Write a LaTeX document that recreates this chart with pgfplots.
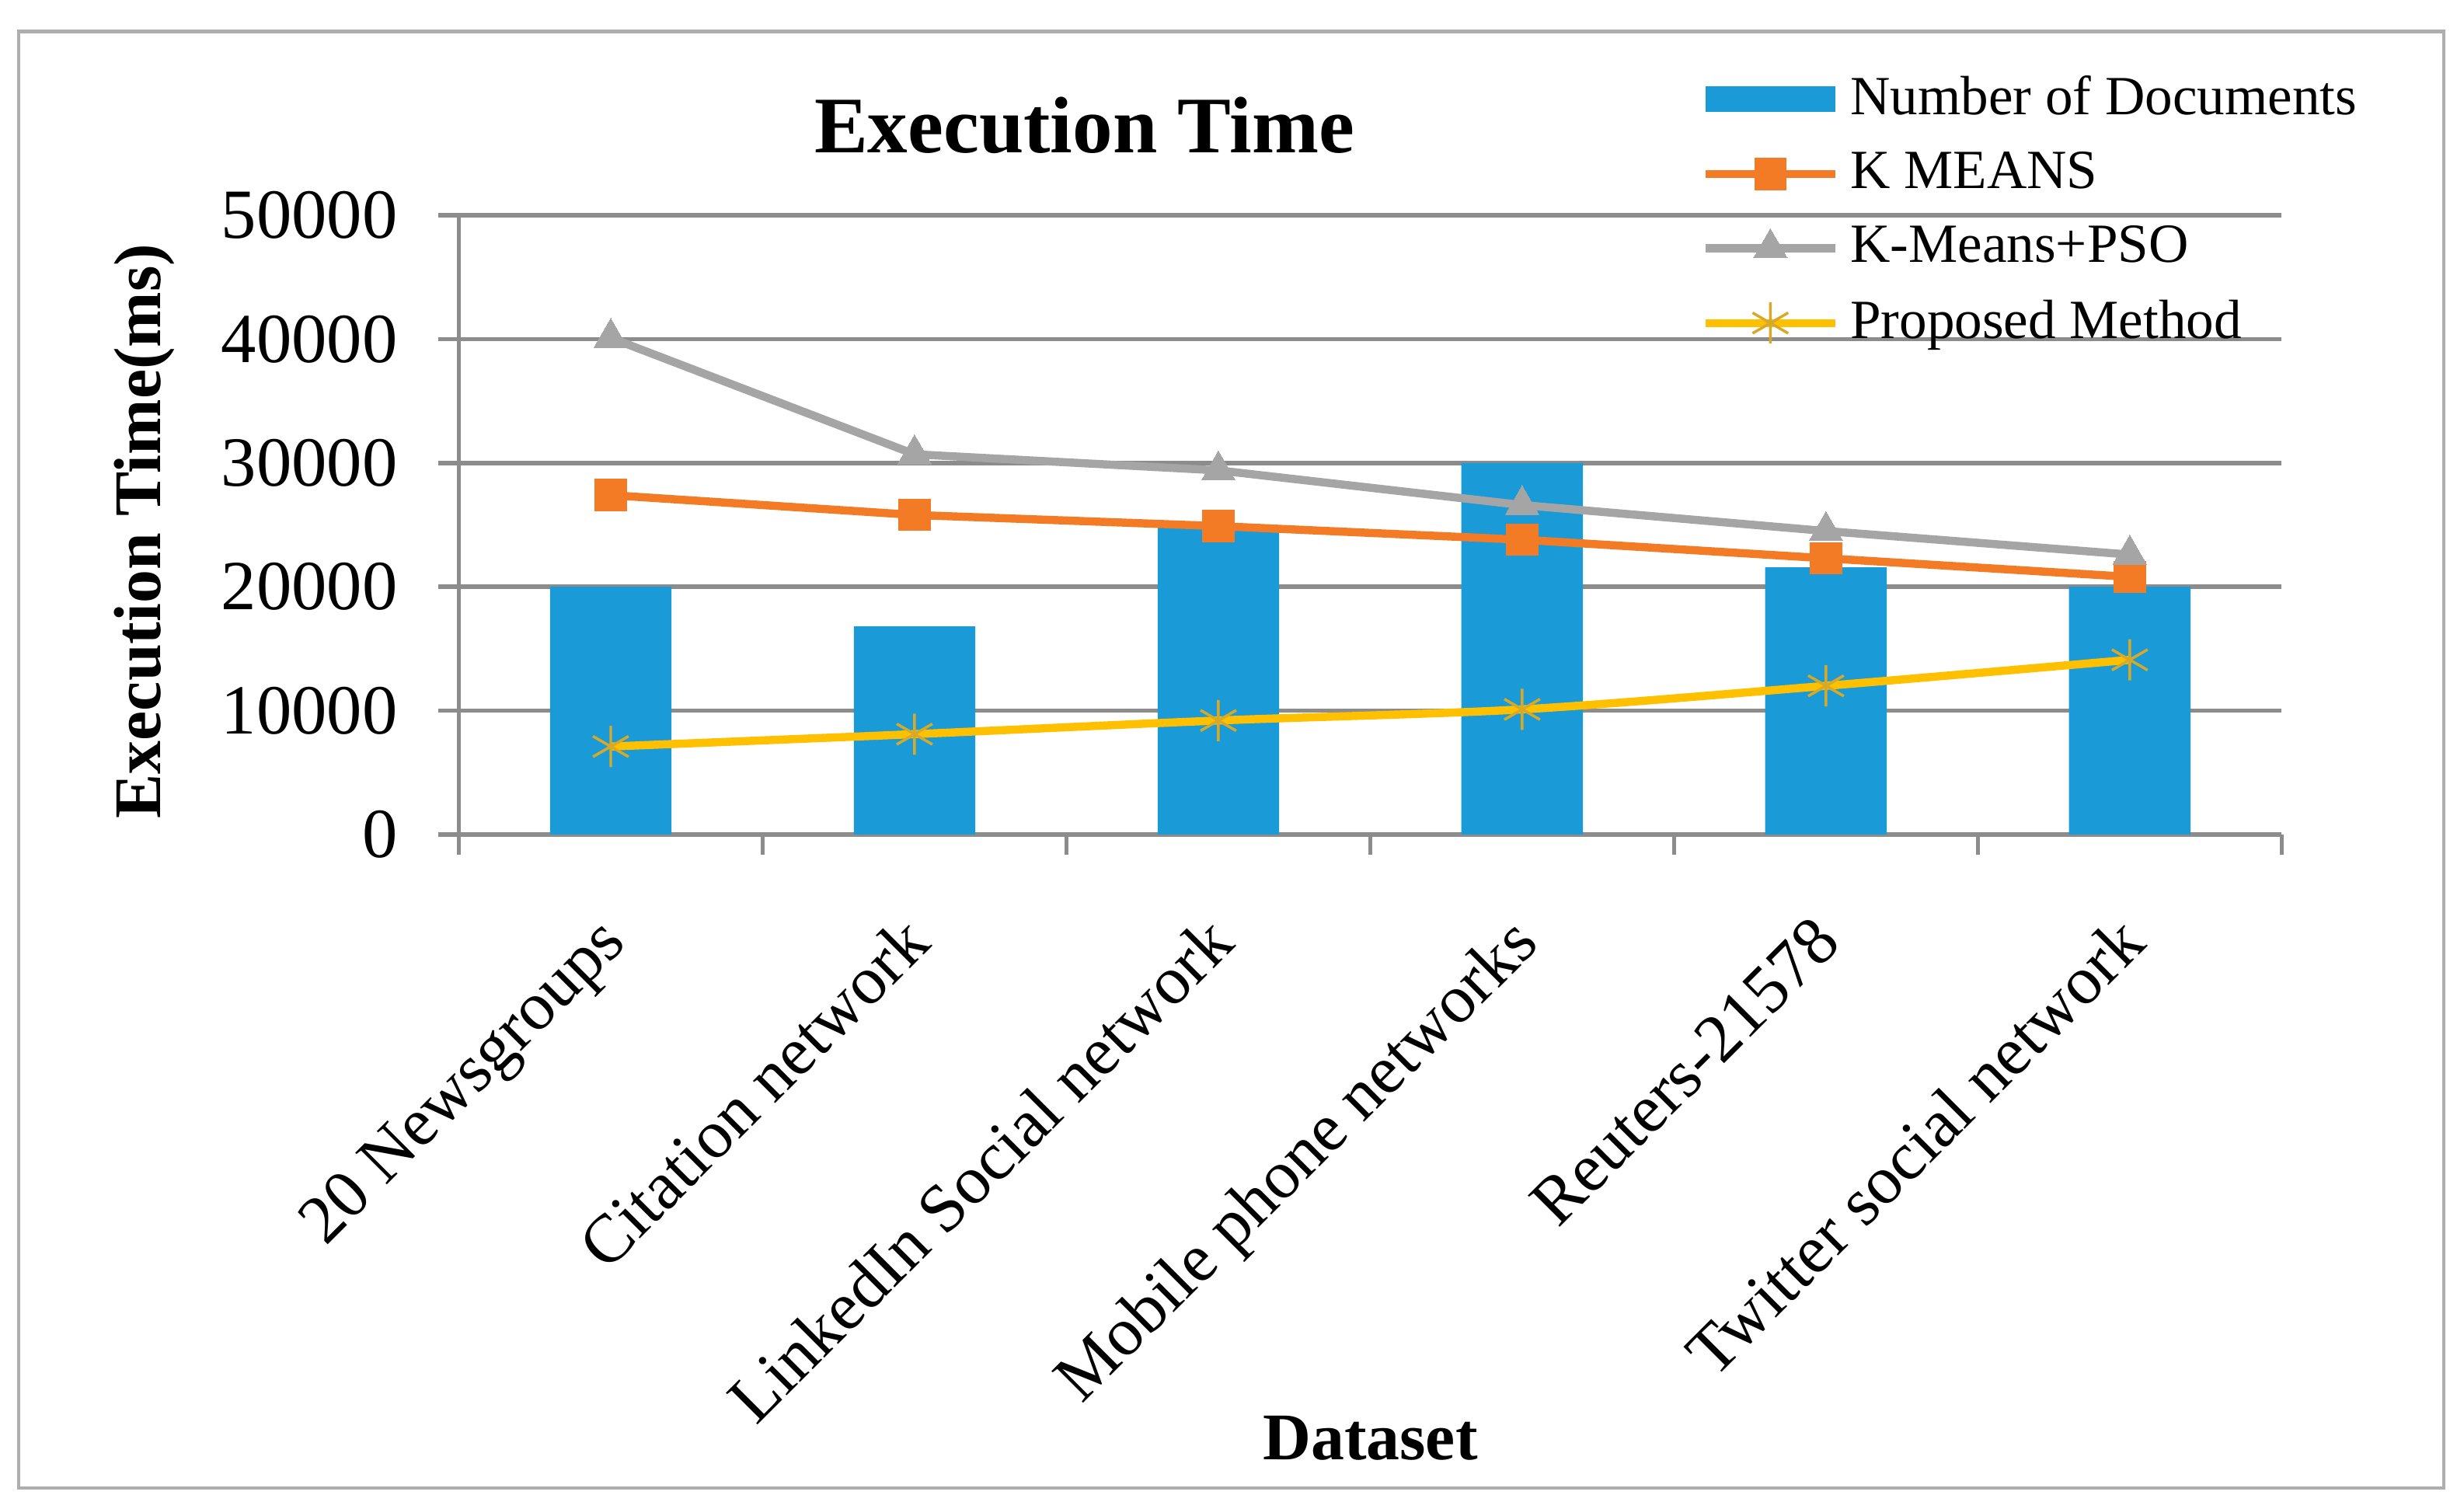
\documentclass[border=0pt]{standalone}
\usepackage{pgfplots}
\pgfplotsset{compat=1.18}
\usepackage{fontspec}
\setmainfont{Liberation Serif}
\definecolor{barblue}{RGB}{26,154,214}
\definecolor{kmorange}{RGB}{244,123,38}
\definecolor{psogray}{RGB}{165,165,165}
\definecolor{propyellow}{RGB}{255,192,0}
\definecolor{propmark}{RGB}{214,170,40}
\definecolor{gridgray}{RGB}{140,140,140}
\begin{document}
\begin{tikzpicture}
\begin{axis}[
  at={(0pt,0pt)}, anchor=south west,
  scale only axis, width=336.4pt, height=114.26pt,
  xmin=-0.5, xmax=5.5, ymin=0, ymax=50000,
  xtick={0,1,2,3,4,5},
  xticklabels={20 Newsgroups, Citation network, LinkedIn Social network, Mobile phone networks, Reuters-21578, Twitter social network},
  minor xtick={-0.5,0.5,1.5,2.5,3.5,4.5,5.5},
  ytick={0,10000,20000,30000,40000,50000},
  scaled y ticks=false,
  yticklabel style={/pgf/number format/fixed, /pgf/number format/1000 sep={}, font=\fontsize{13}{15}\selectfont, xshift=-4pt},
  xticklabel style={rotate=45, anchor=north east, font=\fontsize{12.6}{15}\selectfont, xshift=-6pt, yshift=-2pt},
  /pgf/number format/assume math mode=true,
  axis lines*=left,
  axis line style={draw=gridgray, line width=0.8pt},
  tick align=outside,
  major tick length=3.8pt, minor tick length=3.8pt,
  x tick style={draw=none},
  minor x tick style={draw=gridgray, line width=0.8pt},
  y tick style={draw=gridgray, line width=0.8pt},
  ymajorgrids, grid style={draw=gridgray, line width=0.8pt},
  legend style={draw=none, fill=none, at={(axis description cs:0.681,1.245)}, anchor=north west,
    font=\fontsize{10.2}{12}\selectfont, row sep=1.4pt, cells={anchor=west}, inner sep=0pt},
  legend cell align=left,
  legend image code/.code={\draw[mark repeat=2,mark phase=2,#1] plot coordinates {(0pt,0pt) (12pt,0pt) (24pt,0pt)};},
]
\addplot[ybar, bar width=0.4, fill=barblue, draw=none,
  legend image code/.code={\fill[barblue] (0pt,-2.4pt) rectangle (24pt,2.4pt);}]
  coordinates {(0,20000) (1,16800) (2,24800) (3,30000) (4,21578) (5,20000)};
\addlegendentry{Number of Documents}
\addplot[kmorange, line width=1.5pt, mark=square*, mark size=2.9pt, mark options={fill=kmorange, draw=kmorange, line width=0pt}]
  coordinates {(0,27400) (1,25800) (2,24900) (3,23800) (4,22300) (5,20800)};
\addlegendentry{K MEANS}
\addplot[psogray, line width=1.5pt, mark=triangle*, mark size=3.6pt, mark options={fill=psogray, draw=psogray, line width=0pt}]
  coordinates {(0,40100) (1,30700) (2,29400) (3,26600) (4,24500) (5,22600)};
\addlegendentry{K-Means+PSO}
\addplot[propyellow, line width=1.5pt, smooth, mark=asterisk, mark size=3.8pt, mark options={draw=propmark, line width=0.5pt}]
  coordinates {(0,7100) (1,8100) (2,9200) (3,10100) (4,12000) (5,14100)};
\addlegendentry{Proposed Method}
\end{axis}
\node[font=\bfseries\fontsize{14.8}{17}\selectfont] at (115.42pt,130.79pt) {Execution Time};
\node[rotate=90, font=\bfseries\fontsize{12.3}{14}\selectfont] at (-58pt,55.97pt) {Execution Time(ms)};
\node[font=\bfseries\fontsize{12.3}{14}\selectfont] at (168.2pt,-111.36pt) {Dataset};
\draw[gridgray!70, line width=0.6pt] (-81.2pt,148.19pt) rectangle (366.27pt,-120.64pt);
\pgfresetboundingbox
\path[use as bounding box] (-84.68pt,-124.41pt) rectangle (370.04pt,153.99pt);
\end{tikzpicture}
\end{document}
